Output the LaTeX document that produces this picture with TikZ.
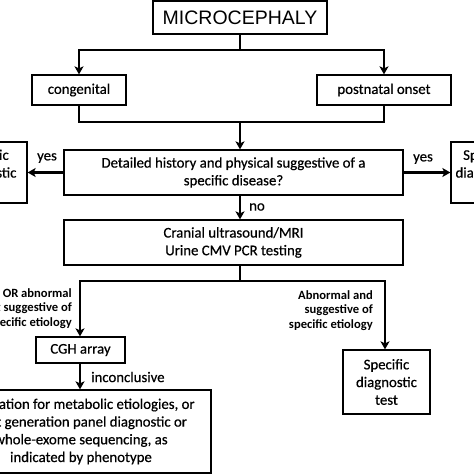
\documentclass[tikz,border=0pt]{standalone}
\usepackage{fontspec}
\setmainfont{Carlito}
\newfontfamily\arialf{Liberation Sans}
\newfontfamily\semib[FakeBold=0.5]{Carlito}
\usetikzlibrary{arrows.meta}
\begin{document}
\begin{tikzpicture}[x=1pt,y=-1pt,
  box/.style={draw=black,line width=1.3pt,fill=white,align=center,inner sep=0pt,font=\semib\fontsize{14.8}{17.7}\selectfont},
  conn/.style={line width=2.4pt,black},
  arr/.style={conn,-{Stealth[length=8pt,width=9pt,inset=2pt]}},
  lbl/.style={font=\semib\fontsize{14.8}{16}\selectfont,inner sep=0pt},
  blbl/.style={font=\bfseries\fontsize{12.6}{14.8}\selectfont,inner sep=0pt,align=right}]
\useasboundingbox (0,0) rectangle (474,474);
\fill[white] (0,0) rectangle (474,474);
\clip (0,0) rectangle (474,474);
\coordinate (c240) at (240,0);
\coordinate (c80) at (80,0);
\coordinate (c385) at (385,0);
\node[box,minimum width=174pt,minimum height=33pt,font=\arialf\fontsize{19.5}{22}\selectfont] (micro) at (240,17.5) {MICROCEPHALY};
\node[box,minimum width=94pt,minimum height=30pt] (cong) at (79,90) {congenital};
\node[box,minimum width=134pt,minimum height=30pt] (post) at (384,90) {postnatal onset};
\node[box,minimum width=339pt,minimum height=45pt] (detail) at (233.5,172.5) {Detailed history and physical suggestive of a\\specific disease?};
\node[box,minimum width=82pt,minimum height=61pt] (leftbox) at (-14,172.5) {Specific\\diagnostic\\test};
\node[box,minimum width=70pt,minimum height=61pt] (rightbox) at (486,172.5) {Specific\\diagnostic\\test};
\node[box,minimum width=339pt,minimum height=45pt] (cranial) at (233.5,242.5) {Cranial ultrasound/MRI\\Urine CMV PCR testing};
\node[box,minimum width=89pt,minimum height=26pt] (cgh) at (80.5,350) {CGH array};
\node[box,minimum width=260pt,minimum height=83pt] (bottom) at (81,431.5) {Evaluation for metabolic etiologies, or\\next generation panel diagnostic or\\whole-exome sequencing, as\\indicated by phenotype};
\node[box,minimum width=87pt,minimum height=64pt] (spec) at (386.5,382) {Specific\\diagnostic\\test};
\coordinate (j1) at (240,50);
\coordinate (j2) at (240,122);
\coordinate (j4) at (240,281);
% connectors
\draw[conn] (micro.south -| c240) -- (j1);
\draw[arr] (j1) -| (cong);
\draw[arr] (j1) -| (post);
\draw[conn] (cong) |- (j2) -| (post);
\draw[arr] (j2) -- (j2 |- detail.north);
\draw[arr] (detail) -- (leftbox);
\draw[arr] (detail) -- (rightbox);
\draw[arr] (detail.south -| c240) -- (cranial.north -| c240);
\draw[conn] (cranial.south -| c240) -- (j4);
\draw[arr] (j4) -| (cgh.north -| c80);
\draw[arr] (j4) -| (spec.north -| c385);
\draw[arr] (cgh.south -| c80) -- (bottom.north -| c80);
% labels
\node[lbl] (yesl) at (47,158) {yes};
\node[lbl] (yesr) at (423,159) {yes};
\node[lbl,anchor=west] (nol) at (249,207) {no};
\node[lbl,anchor=west] (incl) at (91,377) {inconclusive};
\node[blbl,anchor=north east] (leftlbl) at (72,288) {Normal OR abnormal\\not suggestive of\\specific etiology};
\node[blbl,anchor=north east] (rightlbl) at (373,290) {Abnormal and\\suggestive of\\specific etiology};
\end{tikzpicture}
\end{document}
